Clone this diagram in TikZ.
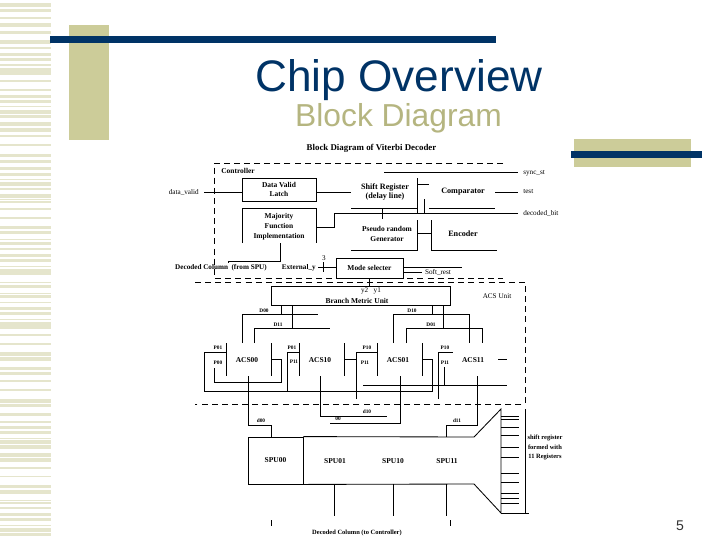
\documentclass[tikz,border=0pt]{standalone}
\usepackage{fontspec}
\setmainfont{Liberation Serif}
\newfontfamily\slidefont{Liberation Sans}
\usetikzlibrary{positioning}
\definecolor{navy}{RGB}{0,51,102}
\definecolor{khaki}{RGB}{204,204,153}
\definecolor{khakitext}{RGB}{181,181,128}
\definecolor{stripe}{RGB}{229,229,204}
\tikzset{
  wire/.style={line width=0.6pt,black},
  boundary/.style={line width=0.6pt,black,dash pattern=on 4.2pt off 3pt},
  pxbox/.style 2 args={draw,line width=0.6pt,inner sep=0pt,minimum width=#1*0.025cm,minimum height=#2*0.025cm},
  lbl/.style={inner sep=0pt,align=center,font=\fontsize{5.3}{7}\selectfont\bfseries},
  tinylbl/.style={inner sep=0pt,font=\fontsize{3.8}{5}\selectfont\bfseries},
  pinlbl/.style={inner sep=0pt,font=\fontsize{5.1}{6}\selectfont},
}
\begin{document}
\begin{tikzpicture}[x=0.025cm,y=-0.025cm]
  \useasboundingbox (0,0) rectangle (720,540);
  % left stripes
  \foreach \a/\b in {3/7,9/12,17/19,23/27,31/34,40/44,47/49,53/56,58/61,64/66,68/75,80/82,89/91,95/98,100/103,106/107,110/114,115/118,122/126,128/132,135/137,144/146,154/157,160/163,167/170,173/176,179/180,182/186,188/190,194/198,199/200,201/203,208/210,217/219,226/229,231/234,239/240,242/245,248/250,254/257,259/262,266/267,269/275,282/283,285/288,293/294,295/298,302/303,307/310,312/315,319/320,322/329,334/336,343/345,352/356,357/361,367/370,372/375,380/382,389/391,399/403,404/407,413/416,421/423,426/429,431/434,438/439,440/444,445/449,453/457,458/462,467/469,476/477,485/488,490/494,500/501,502/504,507/509,513/516,518/521,525/526,528/532,533/536}
    \fill[stripe] (0,\a) rectangle (51,\b);
  % slide bars
  \fill[khaki] (69,25) rectangle (109,140);
  \fill[navy] (50,36) rectangle (496,43);
  \fill[khaki] (574,139) rectangle (691,167);
  \fill[navy] (571,151) rectangle (702,158);
  \node[navy,inner sep=0pt,font=\slidefont\fontsize{31.4}{34}\selectfont] (chip) at (399,80) {Chip Overview};
  \node[khakitext,inner sep=0pt,font=\slidefont\fontsize{22.6}{25}\selectfont] (sub) at (398.5,118) {Block Diagram};
  \node[inner sep=0pt,font=\slidefont\fontsize{10}{12}\selectfont,color=black!80] (page) at (680,526) {5};
  \node[inner sep=0pt,font=\fontsize{6.3}{8}\selectfont\bfseries] (head) at (371.5,148) {Block Diagram of Viterbi Decoder};
  % dashed regions
  \draw[boundary] (503,163) -- (214,163) -- (214,278) -- (503,278);
  \draw[boundary] (195,282) -- (525,282) -- (525,404) -- (195,404);
  % controller blocks
  \node[pxbox={74}{23},lbl] (latch) at (279,189.5) {Data Valid\\Latch};
  \node[pxbox={67}{20},lbl] (mode) at (369.5,268) {Mode selecter};
  \node[lbl] (ctrl) at (238,171) {Controller};
  \node[lbl] (major) at (279,227) {Majority\\Function\\Implementation};
  \node[lbl,font=\fontsize{5.8}{7}\selectfont\bfseries] (shift) at (385,192) {Shift Register\\(delay line)};
  \node[lbl,font=\fontsize{5.8}{7}\selectfont\bfseries] (comp) at (463,192) {Comparator};
  \node[lbl] (pseudo) at (387,234) {Pseudo random\\Generator};
  \node[lbl,font=\fontsize{5.8}{7}\selectfont\bfseries] (enc) at (463,234) {Encoder};
  \foreach \n/\x/\y in {
    dvin/204/192,srin/351/192,srtop/417/178,srbot/351/208,srstub/429/184,
    synca/384/172,syncb/518/172,testa/495/192,testb/518/192,
    cmpa/429/208,cmpb/495/208,cmpv/424/199,
    bita/334/213,bitb/518/213,bitc/334/227,
    majtl/242/243,majtr/316/243,majv/280/261,majl/228/261,majs/228/263,
    prtap/382/208,prtapb/382/219,prtop/417/220,prbot/351/250,prstub/431/233,
    entop/431/220,enbot/497/250,
    exta/318/267,tia/323/262,tib/323/272,moda/462/267,softa/422/272}
    \coordinate (\n) at (\x,\y);
  \draw[wire] (dvin) -- (dvin -| latch.west);
  \draw[wire] (dvin -| latch.east) -- (srin);
  \draw[wire] (srtop) -- (srtop |- bitb);
  \draw[wire] (srbot) -- (srbot -| srtop);
  \draw[wire] (srstub -| srtop) -- (srstub);
  \draw[wire] (synca) -- (syncb);
  \draw[wire] (testa) -- (testb);
  \draw[wire] (cmpa) -- (cmpb);
  \draw[wire] (cmpv) -- (cmpv |- bitb);
  \draw[wire] (bitb) -- (bita) -- (bitc) -- (bitc -| majtr);
  \draw[wire] (majtl) -- (majtl |- cmpa) -- (majtr |- cmpa) -- (majtr);
  \draw[wire] (majtl -| majv) -- (majv) -- (majl) -- (majs);
  \draw[wire] (prtap) -- (prtapb);
  \draw[wire] (prtop) -- (prtop |- prbot) -- (prbot);
  \draw[wire] (prstub -| prtop) -- (prstub);
  \draw[wire] (entop) -- (entop |- enbot) -- (enbot);
  \draw[wire] (exta) -- (exta -| mode.west);
  \draw[wire] (tia) -- (tib);
  \draw[wire] (exta -| mode.east) -- (moda);
  \draw[wire] (softa -| mode.east) -- (softa);
  % pin texts of the controller
  \node[pinlbl,left=0pt] (dvlab) at (199,192) {data\_valid};
  \node[pinlbl,right=0pt] (synclab) at (523,173) {sync\_st};
  \node[pinlbl,right=0pt] (testlab) at (523,192) {test};
  \node[pinlbl,right=0pt] (bitlab) at (523,213) {decoded\_bit};
  \node[pinlbl,left=0pt] (collab) at (267,267.5) {\bfseries Decoded Column\ \ (from SPU)};
  \node[pinlbl,left=0pt] (extlab) at (316,267.5) {\bfseries External\_y};
  \node[pinlbl] (threelab) at (324,258) {3};
  \node[pinlbl] (softlab) at (438,272) {Soft\_rest};
  % branch metric unit
  \node[pxbox={179}{19}] (bmu) at (360.5,295.5) {};
  \node[pinlbl] (ylab) at (371,291) {y2\ \ \ y1};
  \node[lbl] (bmulab) at (357,300.5) {Branch Metric Unit};
  \node[pinlbl] (acslab) at (497,296) {ACS Unit};
  \foreach \n/\x/\y in {
    d0a/281/314,d0l/242/314,d0r/318/314,d0d/242/343,
    d1a/292/328,d1l/254/328,d1r/330/328,d1d/254/343,
    d2a/432/314,d2l/393/314,d2r/469/314,d2d/393/343,d2e/469/343,
    d3a/443/328,d3l/406/328,d3r/482/328,d3d/406/343,d3e/482/343}
    \coordinate (\n) at (\x,\y);
  \draw[wire] (mode.south) -- (mode.south |- bmu.north);
  \draw[wire] (d0a |- bmu.south) -- (d0a);
  \draw[wire] (d0d) -- (d0l) -- (d0r);
  \draw[wire] (d1a |- bmu.south) -- (d1a);
  \draw[wire] (d1d) -- (d1l) -- (d1r);
  \draw[wire] (d2a |- bmu.south) -- (d2a);
  \draw[wire] (d2d) -- (d2l) -- (d2r) -- (d2e);
  \draw[wire] (d3a |- bmu.south) -- (d3a);
  \draw[wire] (d3d) -- (d3l) -- (d3r) -- (d3e);
  \node[tinylbl] (d00lab) at (264,311) {D00};
  \node[tinylbl] (d11lab) at (278,325) {D11};
  \node[tinylbl] (d10lab) at (412,311) {D10};
  \node[tinylbl] (d01lab) at (431,325) {D01};
  % acs blocks
  \node[lbl] (acs00) at (247,360) {ACS00};
  \node[lbl] (acs10) at (320,360) {ACS10};
  \node[lbl] (acs01) at (398,360) {ACS01};
  \node[lbl] (acs11) at (473,360) {ACS11};
  \foreach \n/\x/\y in {
    a0l/226/343,a0b/226/376,a0r/271/343,a0s/281/359,a0c/281/382,a0e/214/382,a0f/214/368,
    outa/204/352,outb/204/391,outc/287/352,outd/299/352,
    a1l/299/343,a1r/344/343,a1b/344/376,a1s/356/359,a1c/356/352,a1d/356/399,a1e/377/352,
    a2l/377/343,a2r/422/343,a2b/422/376,a2s/432/359,a2c/432/391,
    a3a/438/352,a3b/438/399,a3c/453/352,a3d/444/367,a3e/444/385,a3f/363/385,a3g/507/385,
    a3h/498/359,a3i/507/359,
    o0/248/376,o1/320/376,o2/400/376,o3/477/376}
    \coordinate (\n) at (\x,\y);
  \draw[wire] (a0l) -- (a0b);
  \draw[wire] (a0r) -- (a0r |- a0b);
  \draw[wire] (a0s -| a0r) -- (a0s) -- (a0c) -- (a0e) -- (a0f);
  \draw[wire] (a0l |- outa) -- (outa) -- (outb) -- (a2c) -- (a2s) -- (a2s -| a2r);
  \draw[wire] (outb -| outc) -- (outc) -- (outd);
  \draw[wire] (a1l) -- (a1l |- a1b);
  \draw[wire] (a1r) -- (a1b);
  \draw[wire] (a1s -| a1r) -- (a1s);
  \draw[wire] (a1d) -- (a1c) -- (a1e);
  \draw[wire] (a2l) -- (a2l |- a2b);
  \draw[wire] (a2r) -- (a2b);
  \draw[wire] (a3b) -- (a3a) -- (a3c);
  \draw[wire] (a3d) -- (a3e);
  \draw[wire] (a3f) -- (a3g);
  \draw[wire] (a3h) -- (a3i);
  \node[tinylbl] (p0lab) at (218,348) {P01};
  \node[tinylbl] (p1lab) at (218,363) {P00};
  \node[tinylbl] (p2lab) at (292,348) {P01};
  \node[tinylbl] (p3lab) at (294,362) {P11};
  \node[tinylbl] (p4lab) at (367,348) {P10};
  \node[tinylbl] (p5lab) at (365,363) {P11};
  \node[tinylbl] (p6lab) at (445,348) {P10};
  \node[tinylbl] (p7lab) at (445,363) {P11};
  % survivor path unit
  \node[pxbox={55}{47},lbl] (spu00) at (275.5,460.5) {SPU00};
  \node[lbl] (spu01) at (335,461) {SPU01};
  \node[lbl] (spu10) at (393,461) {SPU10};
  \node[lbl] (spu11) at (447,461) {SPU11};
  \foreach \n/\x/\y in {
    flta/474/437,fltb/501/409,flbb/501/513,flba/474/484,
    dr0/271/425,dr3/446/425,dr1/387/416,dr2/330/423,
    brt/525/409,brb/525/513,bre/529/513,tke/519/513,
    col0/334/516,col1/393/516,col2/446/516,
    tk0/271/520,tk0b/271/526,tk1/450/520,tk1b/450/526}
    \coordinate (\n) at (\x,\y);
  \draw[wire] (spu00.north east) -- (flta) -- (fltb) -- (flbb) -- (flba) -- (spu00.south east);
  \foreach \y in {416,419,427,435,447,457,473,482,493,498,503}
    \draw[wire] (501,\y) -- (519,\y);
  \draw[wire] (flbb) -- (tke);
  \draw[wire] (brt) -- (brb);
  \draw[wire] (tke) -- (bre);
  \draw[wire] (o0) -- (o0 |- dr0) -- (dr0) -- (dr0 |- spu00.north);
  \draw[wire] (o1) -- (o1 |- dr1) -- (dr1);
  \draw[wire] (o2) -- (o2 |- dr2) -- (dr2);
  \draw[wire] (o3) -- (o3 |- dr3) -- (dr3) -- (dr3 |- flta);
  \draw[wire] (col0 |- flba) -- (col0);
  \draw[wire] (col1 |- flba) -- (col1);
  \draw[wire] (col2 |- flba) -- (col2);
  \draw[wire] (tk0) -- (tk0b);
  \draw[wire] (tk1) -- (tk1b);
  \node[tinylbl] (d0lab) at (261,421) {d00};
  \node[tinylbl] (d1lab) at (367,412) {d10};
  \node[tinylbl] (d2lab) at (338,419) {00};
  \node[tinylbl] (d3lab) at (457,421) {d11};
  \node[pinlbl,align=center,font=\fontsize{4.6}{7}\selectfont\bfseries] (reglab) at (545,447.5) {shift register\\formed with\\11 Registers};
  \node[pinlbl,font=\fontsize{4.6}{6}\selectfont\bfseries] (outlab) at (357,533) {Decoded Column (to Controller)};
\end{tikzpicture}
\end{document}
